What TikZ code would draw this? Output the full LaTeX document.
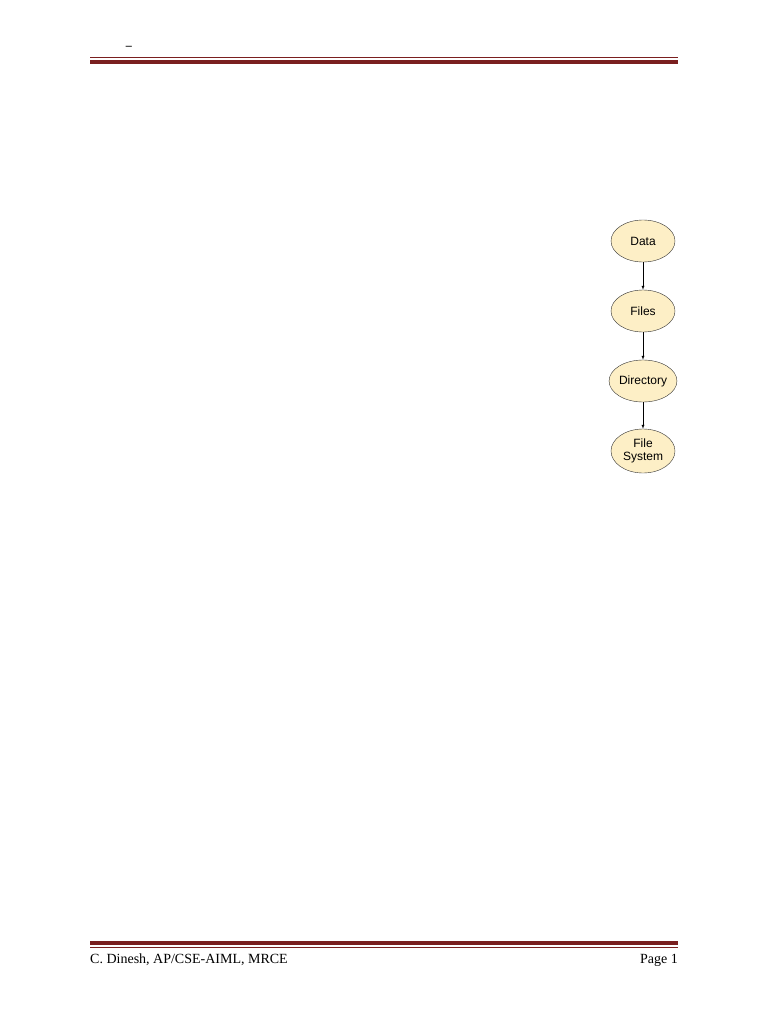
\documentclass[tikz,border=0pt]{standalone}
\usepackage{fontspec}
\setmainfont{Liberation Serif}
\newfontfamily\arialfont{Liberation Sans}
\usepackage{tikz}
\usetikzlibrary{shapes.geometric}
\definecolor{rulered}{HTML}{7A1F1F}
\definecolor{nodefill}{HTML}{FDEFC6}

\begin{document}
\begin{tikzpicture}[x=1pt,y=-1pt]
				\tikzstyle{every node}+=[inner sep=0pt]
				\tikzstyle{stage}=[draw=black!80, fill=nodefill, ellipse, minimum width=64pt, minimum height=42pt, font=\arialfont\fontsize{12}{13}\selectfont, align=center]
				\useasboundingbox (0,0) rectangle (768,1024);
				% header
				\draw (129,46) node {\fontsize{12}{12}\selectfont \textbf{\_}};
				\draw [rulered, line width=1pt] (90,58) -- (678,58);
				\draw [rulered, line width=4pt] (90,62) -- (678,62);
				% chain
				\node [stage] (data) at (643,241) {Data};
				\node [stage] (files) at (643,311) {Files};
				\node [stage] (dir) at (643,381) {Directory};
				\node [stage, minimum height=44pt] (fs) at (643,451) {File\\System};
				\draw [black, -{latex[scale=1.4]}] (data) -- (files);
				\draw [black, -{latex[scale=1.4]}] (files) -- (dir);
				\draw [black, -{latex[scale=1.4]}] (dir) -- (fs);
				% footer
				\draw [rulered, line width=4pt] (90,943) -- (678,943);
				\draw [rulered, line width=1pt] (90,947.5) -- (678,947.5);
				\node [anchor=west, font=\fontsize{14}{14}\selectfont] (author) at (90,960) {C. Dinesh, AP/CSE-AIML, MRCE};
				\node [anchor=east, font=\fontsize{14}{14}\selectfont] (page) at (678,960) {Page 1};
\end{tikzpicture}
\end{document}
